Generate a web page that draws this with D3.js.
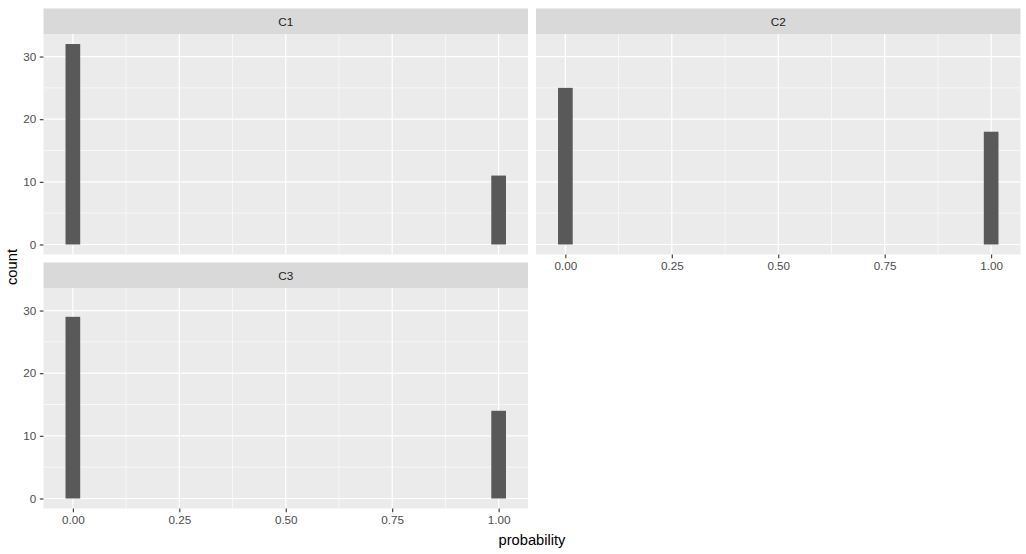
<!DOCTYPE html>
<html>
<head>
<meta charset="utf-8">
<script src="https://cdn.jsdelivr.net/npm/d3@7"></script>
<style>
  html, body { margin: 0; padding: 0; background: #ffffff; }
  svg { display: block; }
  text { font-family: "Liberation Sans", Arial, sans-serif; }
</style>
</head>
<body>
<script>
// ---- data ----
const categories = ["C1", "C2", "C3"];
const binCenters = [0, 1];
const countsC1 = [32, 11];
const countsC2 = [25, 18];
const countsC3 = [29, 14];
const seriesCounts = [countsC1, countsC2, countsC3];
const xTicks = [0, 0.25, 0.5, 0.75, 1];
const xTickLabels = ["0.00", "0.25", "0.50", "0.75", "1.00"];
const xMinor = [0.125, 0.375, 0.625, 0.875];
const yTicks = [0, 10, 20, 30];
const yMinor = [5, 15, 25];
const binCount = 30;

// ---- layout ----
const W = 1026, H = 554;
const left = 43.5, panelW = 484.5, colGap = 8;
const top0 = 8.5, stripH = 25.5, panelH = 220.5, rowGap = 8;

const svg = d3.select("body").append("svg").attr("width", W).attr("height", H);

const binW = 1 / (binCount - 1);
const xMin = 0 - binW / 2, xMax = 1 + binW / 2;
const xPad = (xMax - xMin) * 0.05;
const yMaxData = d3.max(seriesCounts.flat());
const yPad = yMaxData * 0.05;

const positions = [
  { col: 0, row: 0, xAxis: false },
  { col: 1, row: 0, xAxis: true },
  { col: 0, row: 1, xAxis: true }
];

categories.forEach((cat, i) => {
  const p = positions[i];
  const px = left + p.col * (panelW + colGap);
  const py = top0 + p.row * (stripH + panelH + rowGap);
  const g = svg.append("g");

  // strip
  g.append("rect").attr("x", px).attr("y", py).attr("width", panelW).attr("height", stripH).attr("fill", "#D9D9D9");
  g.append("text").attr("x", px + panelW / 2).attr("y", py + 17).attr("text-anchor", "middle")
    .attr("font-size", 11.7).attr("fill", "#1A1A1A").text(cat);

  const pTop = py + stripH, pBot = pTop + panelH;
  const x = d3.scaleLinear().domain([xMin - xPad, xMax + xPad]).range([px, px + panelW]);
  const y = d3.scaleLinear().domain([-yPad, yMaxData + yPad]).range([pBot, pTop]);

  g.append("rect").attr("x", px).attr("y", pTop).attr("width", panelW).attr("height", panelH).attr("fill", "#EBEBEB");

  // minor grid
  g.selectAll(".xm").data(xMinor).enter().append("line")
    .attr("x1", d => x(d)).attr("x2", d => x(d)).attr("y1", pTop).attr("y2", pBot)
    .attr("stroke", "#fff").attr("stroke-width", 0.6);
  g.selectAll(".ym").data(yMinor).enter().append("line")
    .attr("x1", px).attr("x2", px + panelW).attr("y1", d => y(d)).attr("y2", d => y(d))
    .attr("stroke", "#fff").attr("stroke-width", 0.6);
  // major grid
  g.selectAll(".xM").data(xTicks).enter().append("line")
    .attr("x1", d => x(d)).attr("x2", d => x(d)).attr("y1", pTop).attr("y2", pBot)
    .attr("stroke", "#fff").attr("stroke-width", 1.2);
  g.selectAll(".yM").data(yTicks).enter().append("line")
    .attr("x1", px).attr("x2", px + panelW).attr("y1", d => y(d)).attr("y2", d => y(d))
    .attr("stroke", "#fff").attr("stroke-width", 1.2);

  // bars
  g.selectAll(".bar").data(binCenters.map((c, k) => ({ c, v: seriesCounts[i][k] }))).enter().append("rect")
    .attr("x", d => x(d.c - binW / 2)).attr("width", d => x(d.c + binW / 2) - x(d.c - binW / 2))
    .attr("y", d => y(d.v)).attr("height", d => y(0) - y(d.v))
    .attr("fill", "#595959");

  // y axis (left column)
  if (p.col === 0) {
    const ya = g.append("g").attr("transform", `translate(${px},0)`)
      .call(d3.axisLeft(y).tickValues(yTicks).tickSize(3.7).tickPadding(3.5).tickFormat(d3.format("d")));
    ya.select(".domain").remove();
    ya.selectAll("line").attr("stroke", "#333333").attr("stroke-width", 1.1);
    ya.selectAll("text").attr("font-size", 11.7).attr("fill", "#4D4D4D")
      .attr("font-family", "'Liberation Sans', Arial, sans-serif");
  }
  if (p.xAxis) {
    const xa = g.append("g").attr("transform", `translate(0,${pBot})`)
      .call(d3.axisBottom(x).tickValues(xTicks).tickSize(3.7).tickPadding(3.5).tickFormat((d, k) => xTickLabels[k]));
    xa.select(".domain").remove();
    xa.selectAll("line").attr("stroke", "#333333").attr("stroke-width", 1.1);
    xa.selectAll("text").attr("font-size", 11.7).attr("fill", "#4D4D4D")
      .attr("font-family", "'Liberation Sans', Arial, sans-serif");
  }
});

// axis titles
svg.append("text").attr("x", left + (2 * panelW + colGap) / 2).attr("y", 545)
  .attr("text-anchor", "middle").attr("font-size", 14.7).attr("fill", "#000").text("probability");
svg.append("text").attr("transform", "translate(17,267) rotate(-90)")
  .attr("text-anchor", "middle").attr("font-size", 14.7).attr("fill", "#000").text("count");
</script>
</body>
</html>
